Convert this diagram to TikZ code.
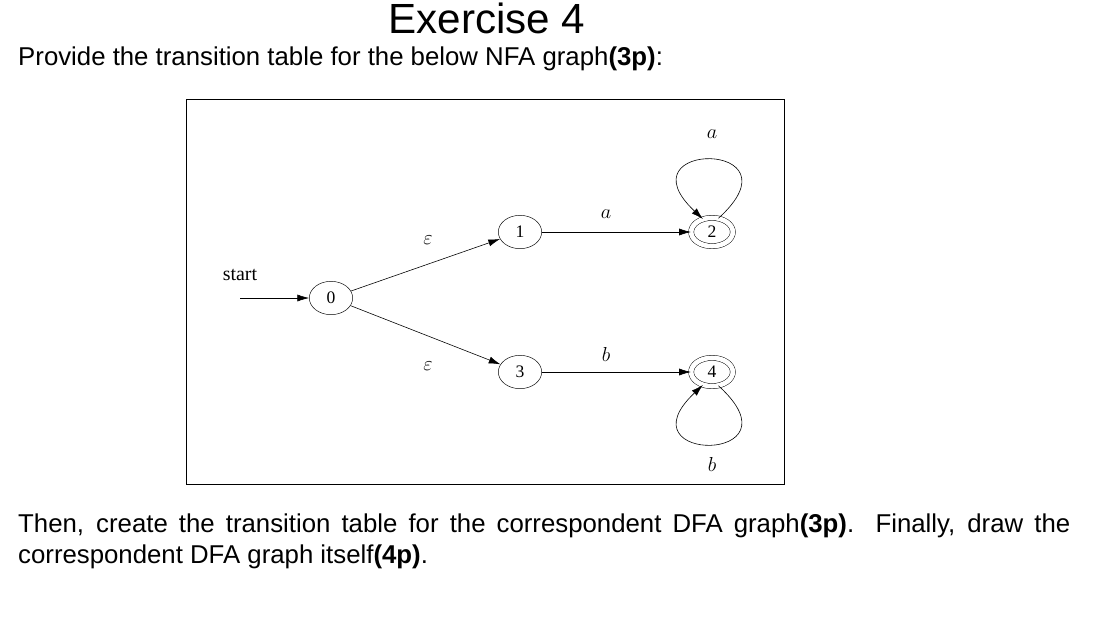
\documentclass[tikz,border=0pt]{standalone}
\usepackage{fontspec}
\setmainfont{Liberation Sans}
\newfontfamily\serifg{Liberation Serif}
\usetikzlibrary{shapes.geometric,arrows.meta}
\begin{document}
\begin{tikzpicture}[x=0.03cm,y=-0.03cm,
  st/.style={ellipse,draw,inner sep=0pt,minimum width=1.3cm,minimum height=1.0cm,font=\serifg\fontsize{15}{15}\selectfont},
  acc/.style={st,double,double distance=4pt,minimum width=1.25cm,minimum height=0.85cm},
  lab/.style={font=\serifg\itshape\fontsize{17}{17}\selectfont},
  arr/.style={-{Latex[length=10pt,width=6pt]},line width=0.5pt},
  txt/.style={font=\fontsize{22}{26}\selectfont,anchor=base west,inner sep=0}]
\useasboundingbox (0,0) rectangle (1094,642);
\node[font=\fontsize{36}{36}\selectfont] (title) at (487,18) {Exercise 4};
\node[txt] (l1) at (18,65) {Provide the transition table for the below NFA graph\textbf{(3p)}:};
\draw[line width=0.6pt] (186,99) rectangle (784,484);
\node[st] (n0) at (331,298) {0};
\node[st] (n1) at (520,232) {1};
\node[acc] (n2) at (712,232) {2};
\node[st] (n3) at (520,372) {3};
\node[acc] (n4) at (712,372) {4};
\node[font=\serifg\fontsize{17}{17}\selectfont] (start) at (240,275) {start};
\coordinate (s0) at (240,298);
\draw[arr] (s0) -- (n0);
\draw[arr] (n0) -- (n1);
\draw[arr] (n0) -- (n3);
\draw[arr] (n1) -- (n2);
\draw[arr] (n3) -- (n4);
\draw[arr] (n2.65) .. controls (805,140) and (619,140) .. (n2.125);
\draw[arr] (n4.-65) .. controls (805,464) and (619,464) .. (n4.-125);
\node[font=\serifg\fontsize{17}{17}\selectfont] (e1) at (428,240) {$\varepsilon$};
\node[font=\serifg\fontsize{17}{17}\selectfont] (e2) at (428,366) {$\varepsilon$};
\node[lab] (la) at (606,214) {$a$};
\node[lab] (lb) at (606,354) {$b$};
\node[lab] (la2) at (712,134) {$a$};
\node[lab] (lb2) at (712,464) {$b$};
\node[txt,text width=1052*0.03cm,align=justify,anchor=north west] (l2) at (18,514) {Then, create the transition table for the correspondent DFA graph\textbf{(3p)}. Finally, draw the\linebreak correspondent DFA graph itself\textbf{(4p)}.};
\end{tikzpicture}
\end{document}
